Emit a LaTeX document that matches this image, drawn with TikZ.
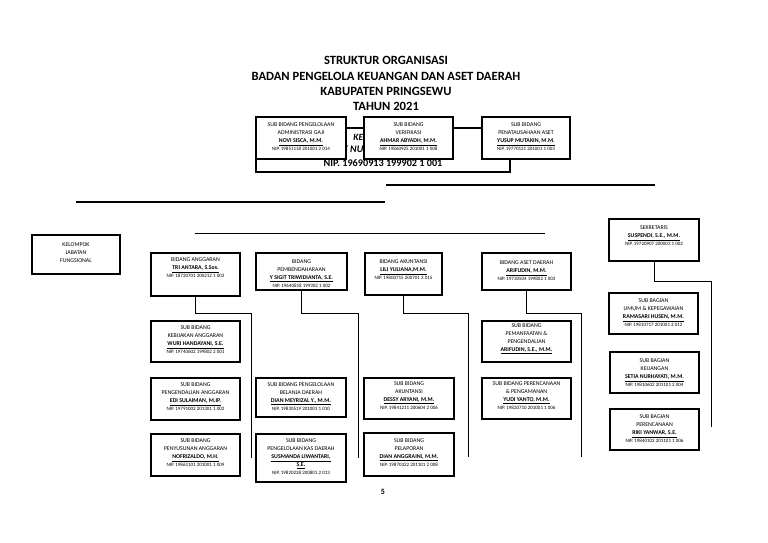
\documentclass[tikz,border=0pt]{standalone}
\usepackage{fontspec}
\setmainfont{Carlito}
\tikzset{
 box/.style={draw, line width=1.3pt, fill=white, inner sep=0pt},
 thickbox/.style={box, line width=1.8pt},
 txt/.style={align=center, inner sep=0pt, font=\fontsize{5.85}{8}\selectfont},
 conn/.style={line width=1pt},
 ttl/.style={font=\bfseries\fontsize{12.6}{14}\selectfont, inner sep=0pt},
 freeline/.style={line width=1.3pt},
}
\newcommand\nm[1]{\textbf{\underline{#1}}}
\newcommand\nip[1]{{\fontsize{5}{8}\selectfont #1}}
\begin{document}
\begin{tikzpicture}[x=1pt,y=-1pt]
\useasboundingbox (0,0) rectangle (768,543);
\fill[white] (0,0) rectangle (768,543);
% title
\node[ttl] (t1) at (386,60) {STRUKTUR ORGANISASI};
\node[ttl] (t2) at (386,76) {BADAN PENGELOLA KEUANGAN DAN ASET DAERAH};
\node[ttl] (t3) at (386,91) {KABUPATEN PRINGSEWU};
\node[ttl] (t4) at (386,106) {TAHUN 2021};
% kepala box
\node[box, line width=1.6pt, minimum width=254pt, minimum height=44pt] (kep) at (383,150) {};
\node[inner sep=0pt, anchor=east, font=\bfseries\itshape\fontsize{9.5}{10}\selectfont] (kepT) at (363.5,137) {KE};
\node[inner sep=0pt, anchor=east, font=\bfseries\itshape\fontsize{10}{11}\selectfont] (kepN) at (363.5,149) {F NU};
\node[inner sep=0pt, font=\bfseries\fontsize{10.2}{11}\selectfont] (kepP) at (383,163) {NIP. 19690913 199902 1 001};
% top sub boxes
\node[box, minimum width=90pt, minimum height=42pt] (gaji) at (301,138) {};
\node[txt] (gajiT) at (301,137) {SUB BIDANG PENGELOLAAN\\ADMINISTRASI GAJI\\\nm{NOVI SISCA, M.M.}\\\nip{NIP. 19851118 201001 2 014}};
\node[box, minimum width=89pt, minimum height=42pt] (verif) at (408.5,138) {};
\node[txt] (verifT) at (408.5,137) {SUB BIDANG\\VERIFIKASI\\\nm{AHMAR ABYADH, M.M.}\\\nip{NIP. 19860925 201001 1 008}};
\node[box, minimum width=88pt, minimum height=42pt] (penat) at (526,138) {};
\node[txt] (penatT) at (526,137) {SUB BIDANG\\PENATAUSAHAAN ASET\\\nm{YUSUP MUTAKIN, M.M.}\\\nip{NIP. 19770121 201001 1 003}};
% free lines
\coordinate (la1) at (386,185); \coordinate (la2) at (655,185);
\coordinate (lb1) at (76,202); \coordinate (lb2) at (385,202);
\coordinate (lc1) at (195,233); \coordinate (lc2) at (545,233);
\draw[freeline] (la1) -- (la2);
\draw[freeline] (lb1) -- (lb2);
\draw[conn] (lc1) -- (lc2);
% kelompok
\node[box, minimum width=88pt, minimum height=39pt] (kel) at (76,254.5) {};
\node[txt] (kelT) at (76,253) {KELOMPOK\\JABATAN\\FUNGSIONAL};
% bidang row
\node[box, minimum width=89pt, minimum height=43pt] (ang) at (195.5,274.5) {};
\node[txt] (angT) at (195.5,268) {BIDANG ANGGARAN\\\nm{TRI ANTARA, S.Sos.}\\\nip{NIP. 18720701 200212 1 003}};
\node[box, minimum width=91pt, minimum height=37pt] (pemb) at (301.5,271.5) {};
\node[txt] (pembT) at (301.5,273.5) {BIDANG\\PEMBENDAHARAAN\\\nm{Y SIGIT TRIWIDIANTA, S.E.}\\\nip{NIP. 19640818 199302 1 002}};
\node[box, minimum width=77pt, minimum height=42pt] (akt) at (403.5,274) {};
\node[txt] (aktT) at (403.5,270) {BIDANG AKUNTANSI\\\nm{LILI YULIANA,M.M.}\\\nip{NIP. 19800715 200701 2 015}};
\node[box, minimum width=89pt, minimum height=37pt] (aset) at (526.5,271.5) {};
\node[txt] (asetT) at (526.5,271) {BIDANG ASET DAERAH\\\nm{ARIFUDIN, M.M.}\\\nip{NIP. 19730504 199802 1 003}};
% sekretariat
\node[box, minimum width=90pt, minimum height=42pt] (sekr) at (654,240) {};
\node[txt] (sekrT) at (654,236) {SEKRETARIS\\\nm{SUSPENDI, S.E., M.M.}\\\nip{NIP. 19720907 200003 1 002}};
\node[thickbox, minimum width=89pt, minimum height=41pt] (umum) at (653.5,313.5) {};
\node[txt] (umumT) at (653.5,313) {SUB BAGIAN\\UMUM \& KEPEGAWAIAN\\\nm{RAMASARI HUSEN, M.M.}\\\nip{NIP. 19810717 201001 2 012}};
\node[box, minimum width=89pt, minimum height=41pt] (keu) at (654.5,372.5) {};
\node[txt] (keuT) at (654.5,373) {SUB BAGIAN\\KEUANGAN\\\nm{SETIA NURHAYATI, M.M.}\\\nip{NIP. 19810602 201101 2 004}};
\node[thickbox, minimum width=89pt, minimum height=41pt] (peren) at (654.5,429.5) {};
\node[txt] (perenT) at (654.5,429) {SUB BAGIAN\\PERENCANAAN\\\nm{RIKI YANWAR, S.E.}\\\nip{NIP. 19840102 201101 1 006}};
% sub bidang anggaran
\node[box, minimum width=89pt, minimum height=41pt] (kebij) at (195.5,341.5) {};
\node[txt] (kebijT) at (195.5,340) {SUB BIDANG\\KEBIJAKAN ANGGARAN\\\nm{WURI HANDAYANI, S.E.}\\\nip{NIP. 19740602 199802 2 001}};
\node[thickbox, minimum width=89pt, minimum height=42pt] (pengend) at (195.5,399) {};
\node[txt] (pengendT) at (195.5,397) {SUB BIDANG\\PENGENDALIAN ANGGARAN\\\nm{EDI SULAIMAN, M.IP.}\\\nip{NIP. 19791002 201301 1 002}};
\node[box, minimum width=89pt, minimum height=42pt] (penyus) at (195.5,455) {};
\node[txt] (penyusT) at (195.5,453) {SUB BIDANG\\PENYUSUNAN ANGGARAN\\\nm{NOFRIZALDO, M.H.}\\\nip{NIP. 19861101 201001 1 009}};
% sub bidang perbendaharaan
\node[thickbox, minimum width=90pt, minimum height=39pt] (belanja) at (301,397.5) {};
\node[txt] (belanjaT) at (301,396.5) {SUB BIDANG PENGELOLAAN\\BELANJA DAERAH\\\nm{DIAN MEYRIZAL Y., M.M.}\\\nip{NIP. 19830519 201001 1 010}};
\node[thickbox, minimum width=90pt, minimum height=48pt] (kas) at (301,458) {};
\node[txt] (kasT) at (301,457) {SUB BIDANG\\PENGELOLAAN KAS DAERAH\\\nm{SUSMANDA LIWANTARI,}\\\nm{S.E.}\\\nip{NIP. 19820228 200801 2 013}};
% sub bidang akuntansi
\node[thickbox, minimum width=90pt, minimum height=41pt] (aktsub) at (409,398.5) {};
\node[txt] (aktsubT) at (409,395.5) {SUB BIDANG\\AKUNTANSI\\\nm{DESSY ARYANI, M.M.}\\\nip{NIP. 19841211 200604 2 006}};
\node[thickbox, minimum width=90pt, minimum height=43pt] (pelap) at (409,454.5) {};
\node[txt] (pelapT) at (409,452.5) {SUB BIDANG\\PELAPORAN\\\nm{DIAN ANGGRAINI, M.M.}\\\nip{NIP. 19870322 201101 2 008}};
% sub bidang aset
\node[box, minimum width=89pt, minimum height=41pt] (pemanf) at (526.5,341.5) {};
\node[txt] (pemanfT) at (526.5,338.5) {SUB BIDANG\\PEMANFAATAN \&\\PENGENDALIAN\\\nm{ARIFUDIN, S.E., M.M.}};
\node[thickbox, minimum width=89pt, minimum height=41pt] (perpeng) at (526.5,398.5) {};
\node[txt] (perpengT) at (526.5,395.5) {SUB BIDANG PERENCANAAN\\\& PENGAMANAN\\\nm{YUDI YANTO, M.M.}\\\nip{NIP. 19820710 201001 1 006}};
% connectors
\coordinate (ang1) at (251,313); \coordinate (angE) at (251,458);
\coordinate (pemb1) at (358,313); \coordinate (pembE) at (358,458);
\coordinate (akt1) at (468,313); \coordinate (aktE) at (468,457);
\coordinate (aset1) at (581,313); \coordinate (asetE) at (581,457);
\coordinate (sekr1) at (711,281); \coordinate (sekrE) at (711,427);
\draw[conn] (ang.south) |- (ang1) -- (angE);
\draw[conn] (pemb.south) |- (pemb1) -- (pembE);
\draw[conn] (akt.south) |- (akt1) -- (aktE);
\draw[conn] (aset.south) |- (aset1) -- (asetE);
\draw[conn] (sekr.south) |- (sekr1) -- (sekrE);
% page number
\node[inner sep=0pt, font=\bfseries\fontsize{8}{9}\selectfont] (pg) at (383,492) {5};
\end{tikzpicture}
\end{document}
